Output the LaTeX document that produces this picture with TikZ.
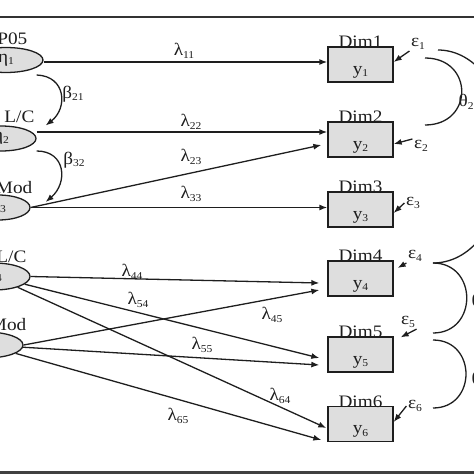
\documentclass[tikz,border=0pt]{standalone}
\usepackage{fontspec}
\setmainfont{Liberation Serif}[FakeStretch=1.1]
\usetikzlibrary{shapes.geometric,arrows.meta}
\newcommand\idx[1]{\raisebox{-2.5pt}{\fontsize{10.5}{11}\selectfont #1}}
\definecolor{ink}{HTML}{1E1E1E}
\definecolor{shade}{HTML}{DEDEDE}

\begin{document}
\begin{tikzpicture}[x=1pt,y=-1pt,>={Latex[length=8pt,width=6pt]},line width=1.3pt,draw=ink,
    every node/.style={font=\fontsize{17.5}{20}\selectfont,text=ink},
    lat/.style={ellipse,draw=ink,fill=shade,inner sep=0pt,minimum height=25pt},
    obs/.style={rectangle,draw=ink,fill=shade,minimum width=65pt,minimum height=35pt,
        inner sep=0pt,text height=22pt,text depth=3pt},
    tag/.style={inner sep=0pt,anchor=base east},
    eps/.style={inner sep=1pt}]
    \useasboundingbox (0,0) rectangle (474,474);
    \clip (0,0) rectangle (474,474);
    % frame
    \draw[line width=1.5pt,draw=black!80] (0,17) -- (474,17);
    \fill[black!75] (0,471) rectangle (474,474);
    % latent variables
    \node[lat,minimum width=74pt] (e1) at (6,60) {η\idx{1}};
    \node[lat,minimum width=70pt] (e2) at (1,138.5) {η\idx{2}};
    \node[lat,minimum width=64pt] (e3) at (-2,207.5) {η\idx{3}};
    \node[lat,minimum width=72pt,minimum height=27pt] (e4) at (-6,276.5) {η\idx{4}};
    \node[lat,minimum width=74pt,minimum height=26pt] (e5) at (-14,345) {η\idx{5}};
    \node[tag] (n1) at (28,44) {P05};
    \node[tag] (n2) at (35,122) {L/C};
    \node[tag] (n3) at (33,193) {Mod};
    \node[tag] (n4) at (27,262) {L/C};
    \node[tag] (n5) at (27,330) {Mod};
    % indicators
    \node[obs] (b1) at (360.5,64.5) {y\idx{1}};
    \node[obs] (b2) at (360.5,139.5) {y\idx{2}};
    \node[obs] (b3) at (360.5,209.5) {y\idx{3}};
    \node[obs] (b4) at (360.5,278.5) {y\idx{4}};
    \node[obs] (b5) at (360.5,354.5) {y\idx{5}};
    \node[obs] (b6) at (360.5,424) {y\idx{6}};
    \foreach \i in {1,...,6}
        \node[anchor=base] (d\i) at ([yshift=-1.3pt]b\i.north) {Dim\i};
    % errors
    \node[eps] (ep1) at (418,44) {ε\idx{1}};
    \node[eps] (ep2) at (421,146) {ε\idx{2}};
    \node[eps] (ep3) at (413,203) {ε\idx{3}};
    \node[eps] (ep4) at (415,256) {ε\idx{4}};
    \node[eps] (ep5) at (408,322) {ε\idx{5}};
    \node[eps] (ep6) at (415,406) {ε\idx{6}};
    \draw[->] (ep1.south west) -- ([yshift=2.5pt]b1.east);
    \draw[->] (ep2.north west) -- ([yshift=-4.5pt]b2.east);
    \draw[->] (ep3.west) -- ([yshift=-3.5pt]b3.east);
    \draw[->] (ep4.south west) -- ([xshift=4pt,yshift=10.5pt]b4.east);
    \draw[->] (ep5.south east) -- ([xshift=7pt,yshift=-1pt]b5.north east);
    \draw[->] (ep6.west) -- ([yshift=2pt]b6.east);
    % structural paths
    \draw[->] ([shift={(-7,15)}]e1.east) .. controls (66,76) and (68,108) .. ([shift={(9,-13)}]e2.east);
    \draw[->] ([shift={(0,12.5)}]e2.east) .. controls (66,151) and (68,183) .. ([shift={(15,-5.5)}]e3.east);
    \node (be21) at (73,94) {β\idx{21}};
    \node (be32) at (74,160) {β\idx{32}};
    % loadings
    \draw[->] ([yshift=-2pt]e1.east) -- ([yshift=-2pt]e1.east -| b1.west);
    \draw[->] ([yshift=6.5pt]e2.east) -- ([yshift=6.5pt]e2.east -| b2.west);
    \draw[->] (e3.east) -- ([xshift=-6pt,yshift=-5.5pt]b2.west);
    \draw[->] (e3.east) -- (e3.east -| b3.west);
    \draw[->] (e4.east) -- ([xshift=-8pt,yshift=-4.5pt]b4.west);
    \draw[->] (e4) -- ([xshift=-8pt,yshift=-3.5pt]b5.west);
    \draw[->] (e4) -- ([xshift=-1pt,yshift=-4pt]b6.west);
    \draw[->] (e5.east) -- ([xshift=-8pt,yshift=-11.5pt]b4.west);
    \draw[->] (e5) -- ([xshift=-8pt,yshift=-10.5pt]b5.west);
    \draw[->] (e5) -- ([xshift=-6pt,yshift=-16pt]b6.west);
    \node (l11) at (184,51) {λ\idx{11}};
    \node (l22) at (191,122) {λ\idx{22}};
    \node (l23) at (191,157) {λ\idx{23}};
    \node (l33) at (191,194) {λ\idx{33}};
    \node (l44) at (132,272) {λ\idx{44}};
    \node (l54) at (138,300) {λ\idx{54}};
    \node (l45) at (272,315) {λ\idx{45}};
    \node (l55) at (202,345) {λ\idx{55}};
    \node (l64) at (280,396) {λ\idx{64}};
    \node (l65) at (178,416) {λ\idx{65}};
    % error covariances
    \coordinate (c1) at (425,58);
    \coordinate (c2) at (425,125);
    \coordinate (c1b) at (438,50);
    \coordinate (c4) at (433,263);
    \coordinate (c5) at (433,333);
    \coordinate (c5b) at (433,340);
    \coordinate (c6) at (433,408);
    \draw (c1) .. controls (474,58) and (474,125) .. (c2);
    \draw (c1b) .. controls (470,50) and (500,80) .. (505,130);
    \draw (c4) .. controls (478,263) and (478,333) .. (c5);
    \draw (c5b) .. controls (477,340) and (477,408) .. (c6);
    \draw (c4) .. controls (450,263) and (468,255) .. (482,236);
    \node[inner sep=0pt,anchor=west] (th21) at (458,102) {θ\idx{21}};
    \node[inner sep=0pt,anchor=west] (th54) at (471,300) {θ};
    \node[inner sep=0pt,anchor=west] (th65) at (471,378) {θ};
\end{tikzpicture}
\end{document}
